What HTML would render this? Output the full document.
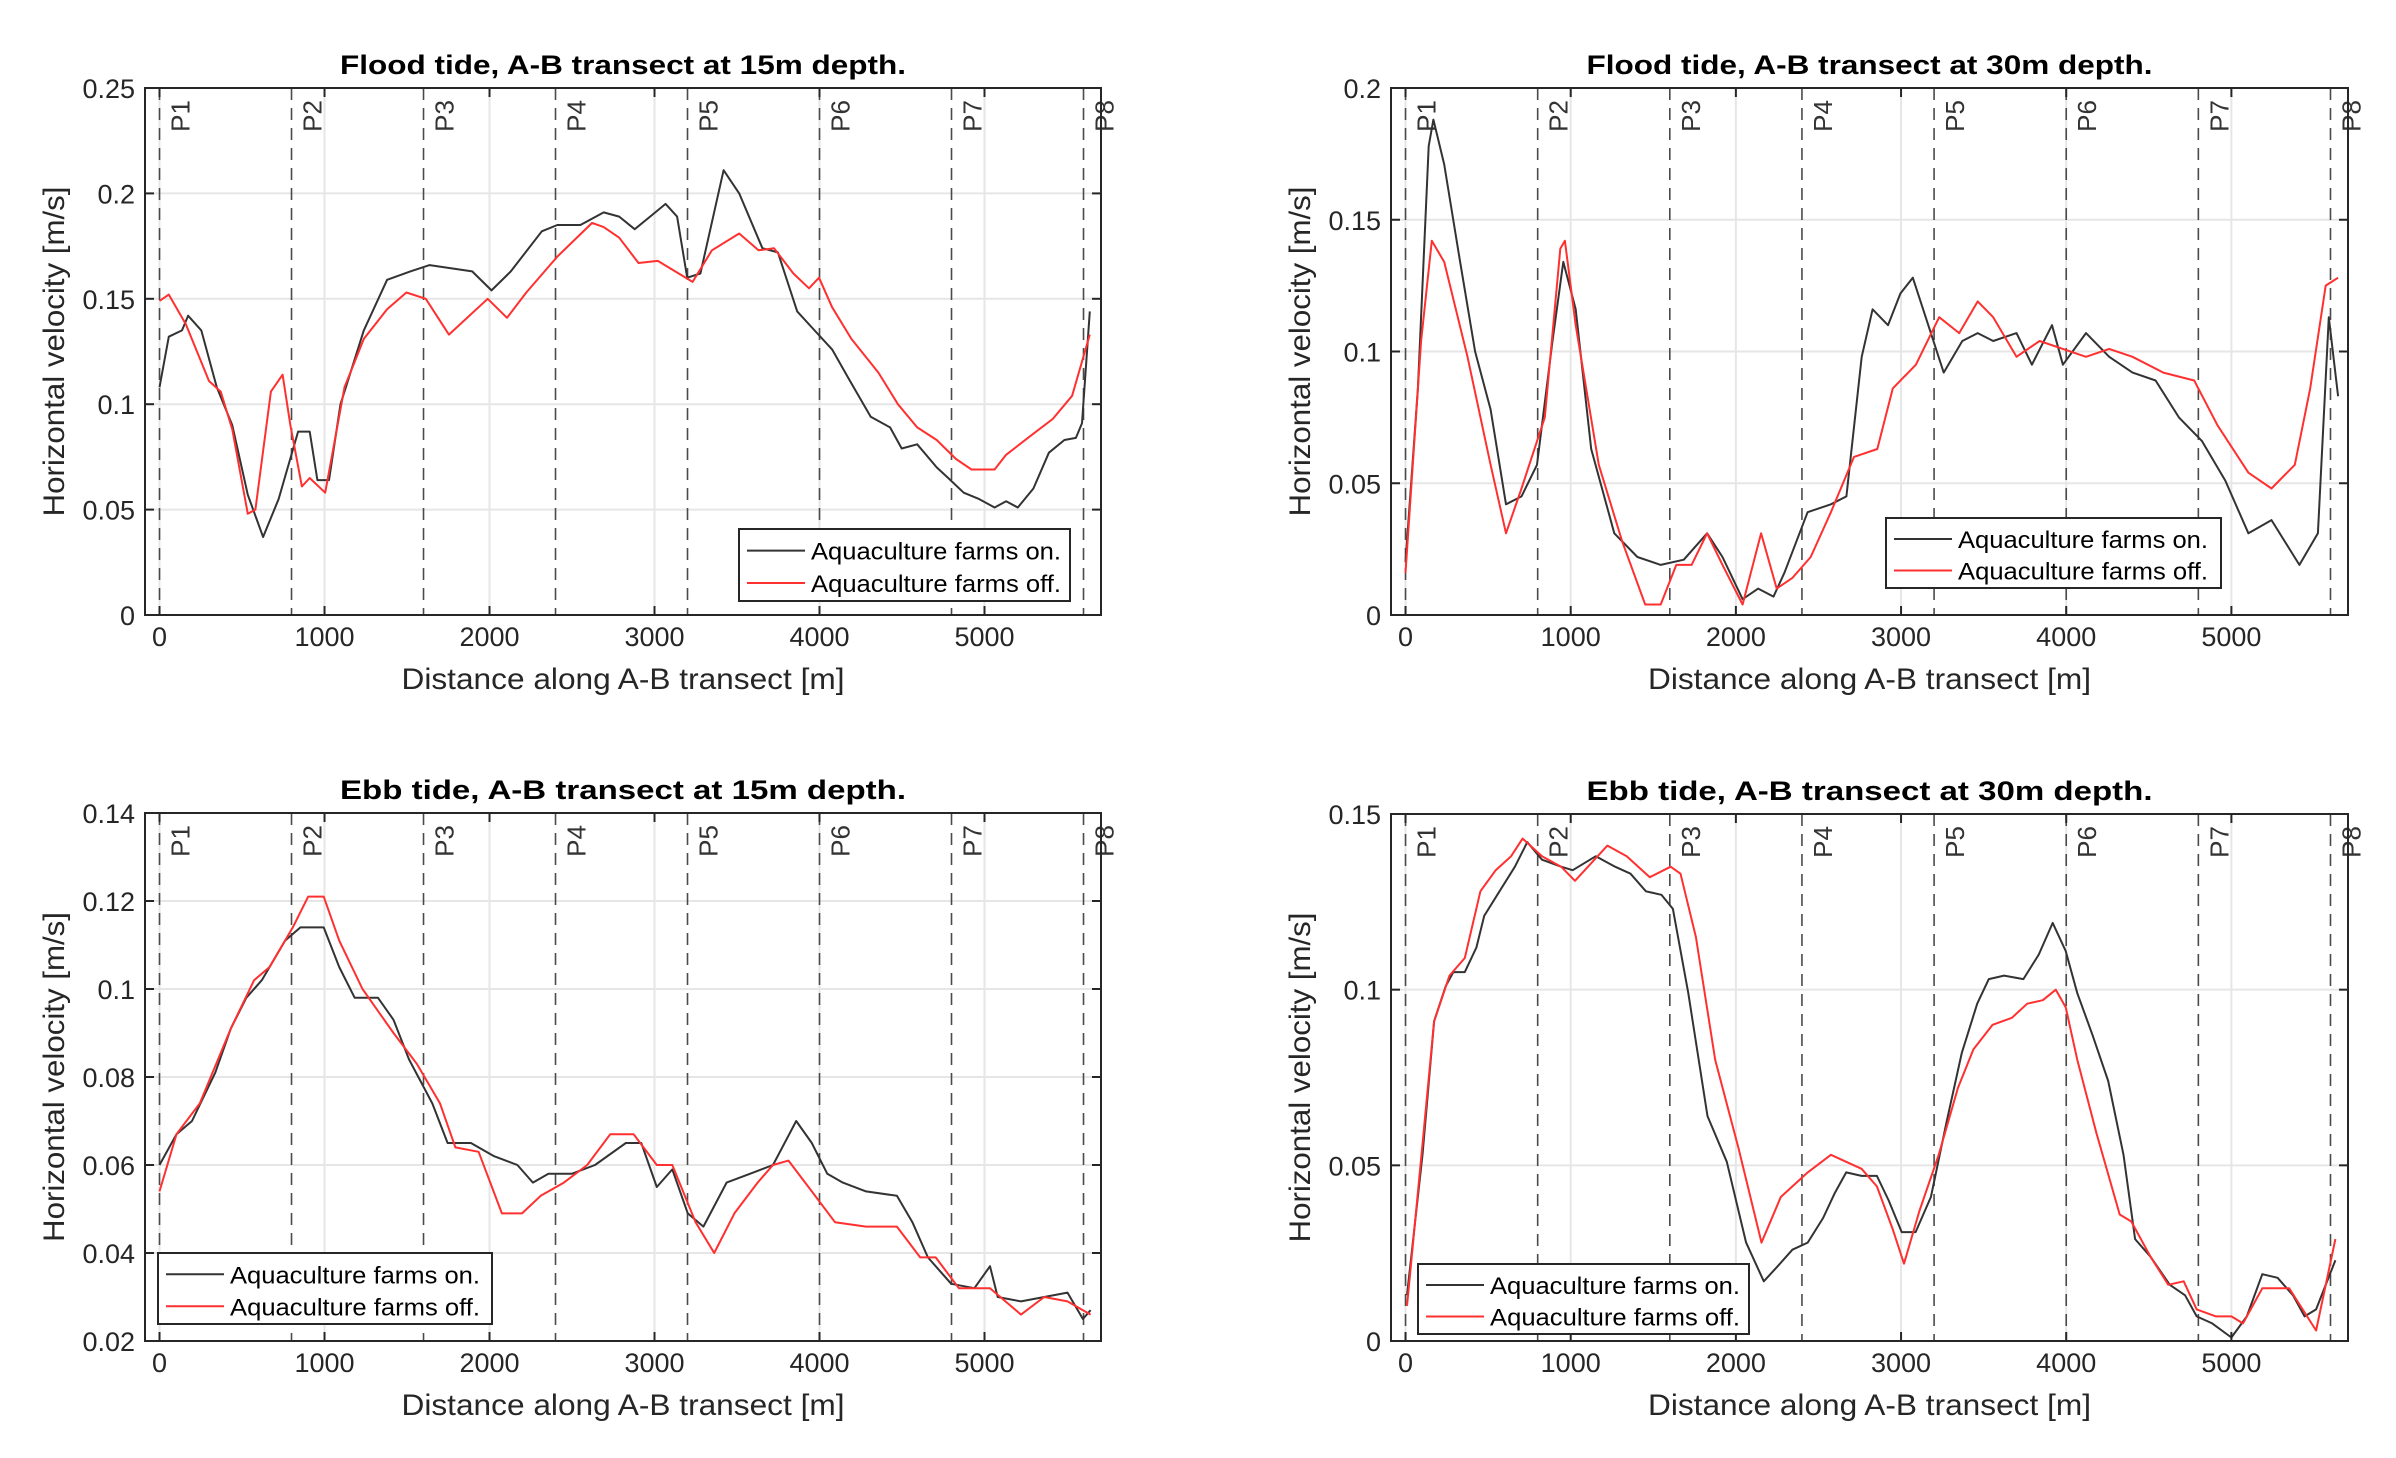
<!DOCTYPE html>
<html><head><meta charset="utf-8"><style>
html,body{margin:0;padding:0;background:#fff;}
svg{display:block;}
text{font-family:"Liberation Sans",Arial,sans-serif;}
</style></head><body>
<svg id="s" width="2396" height="1458" xmlns="http://www.w3.org/2000/svg"></svg>
<script>
const panels=[
{L:145,T:88,W:956,H:527,ymin:0,ymax:0.25,ticks:[0,0.05,0.1,0.15,0.2,0.25],title:"Flood tide, A-B transect at 15m depth.",
 leg:[739,529,331,72],
 k:[[0,.108],[56,.132],[136,.135],[173,.142],[253,.135],[347,.108],[441,.09],[535,.057],[628,.037],[722,.055],[840,.087],[910,.087],[957,.064],[1027,.064],[1097,.1],[1238,.135],[1379,.159],[1520,.163],[1637,.166],[1895,.163],[2012,.154],[2129,.163],[2317,.182],[2411,.185],[2551,.185],[2692,.191],[2786,.189],[2880,.183],[2973,.189],[3067,.195],[3137,.189],[3198,.16],[3278,.162],[3419,.211],[3513,.2],[3654,.174],[3748,.172],[3865,.144],[3982,.134],[4076,.126],[4170,.113],[4310,.094],[4428,.089],[4498,.079],[4592,.081],[4710,.07],[4780,.065],[4874,.058],[4968,.055],[5061,.051],[5131,.054],[5202,.051],[5296,.06],[5390,.077],[5484,.083],[5554,.084],[5591,.091],[5638,.144]],
 r:[[0,.149],[56,.152],[159,.138],[300,.111],[371,.106],[441,.088],[535,.048],[581,.05],[675,.106],[746,.114],[793,.09],[863,.061],[910,.065],[1004,.058],[1121,.108],[1238,.131],[1379,.145],[1496,.153],[1614,.15],[1754,.133],[1989,.15],[2106,.141],[2223,.153],[2411,.17],[2622,.186],[2692,.184],[2786,.179],[2903,.167],[3020,.168],[3231,.158],[3348,.173],[3513,.181],[3630,.173],[3724,.174],[3842,.162],[3936,.155],[3997,.16],[4076,.146],[4193,.131],[4357,.115],[4475,.1],[4592,.089],[4710,.083],[4827,.074],[4921,.069],[5061,.069],[5131,.076],[5296,.086],[5413,.093],[5531,.104],[5638,.133]]},
{L:1391,T:88,W:957,H:527,ymin:0,ymax:0.2,ticks:[0,0.05,0.1,0.15,0.2],title:"Flood tide, A-B transect at 30m depth.",
 leg:[1886,518,335,70],
 k:[[0,.02],[75,.086],[140,.178],[169,.188],[234,.171],[328,.135],[421,.1],[515,.078],[608,.042],[702,.045],[796,.057],[890,.104],[955,.134],[1030,.116],[1124,.063],[1264,.031],[1404,.022],[1545,.019],[1685,.021],[1826,.031],[1919,.022],[2041,.006],[2135,.01],[2228,.007],[2294,.016],[2434,.039],[2575,.042],[2669,.045],[2762,.098],[2828,.116],[2921,.11],[2996,.122],[3071,.128],[3165,.11],[3258,.092],[3371,.104],[3464,.107],[3558,.104],[3699,.107],[3792,.095],[3914,.11],[3980,.095],[4120,.107],[4260,.098],[4401,.092],[4541,.089],[4682,.075],[4822,.066],[4963,.051],[5103,.031],[5243,.036],[5412,.019],[5524,.031],[5590,.113],[5646,.083]],
 r:[[0,.016],[94,.104],[159,.142],[234,.134],[375,.098],[515,.057],[608,.031],[702,.048],[843,.075],[937,.139],[965,.142],[1030,.11],[1170,.057],[1311,.028],[1451,.004],[1545,.004],[1639,.019],[1732,.019],[1826,.031],[1919,.019],[2041,.004],[2153,.031],[2247,.01],[2341,.014],[2453,.022],[2575,.039],[2715,.06],[2856,.063],[2950,.086],[3090,.095],[3231,.113],[3352,.107],[3464,.119],[3558,.113],[3699,.098],[3839,.104],[3980,.101],[4120,.098],[4260,.101],[4401,.098],[4588,.092],[4775,.089],[4916,.072],[5103,.054],[5243,.048],[5384,.057],[5477,.086],[5571,.125],[5646,.128]]},
{L:145,T:813,W:956,H:528,ymin:0.02,ymax:0.14,ticks:[0.02,0.04,0.06,0.08,0.1,0.12,0.14],title:"Ebb tide, A-B transect at 15m depth.",
 leg:[158,1253,334,71],
 k:[[0,.06],[103,.067],[197,.07],[338,.081],[432,.091],[526,.098],[620,.102],[761,.111],[854,.114],[995,.114],[1089,.105],[1183,.098],[1324,.098],[1418,.093],[1512,.084],[1653,.074],[1746,.065],[1887,.065],[2028,.062],[2169,.06],[2263,.056],[2357,.058],[2498,.058],[2639,.06],[2826,.065],[2920,.065],[3014,.055],[3108,.059],[3202,.049],[3296,.046],[3437,.056],[3578,.058],[3718,.06],[3859,.07],[3953,.065],[4047,.058],[4141,.056],[4282,.054],[4469,.053],[4563,.047],[4657,.039],[4798,.033],[4939,.032],[5033,.037],[5080,.03],[5221,.029],[5362,.03],[5503,.031],[5596,.025],[5643,.027]],
 r:[[0,.054],[103,.067],[244,.074],[432,.091],[573,.102],[667,.105],[808,.114],[901,.121],[995,.121],[1089,.111],[1230,.1],[1418,.09],[1559,.083],[1700,.074],[1793,.064],[1934,.063],[2075,.049],[2197,.049],[2310,.053],[2451,.056],[2592,.06],[2732,.067],[2873,.067],[3014,.06],[3108,.06],[3249,.047],[3362,.04],[3484,.049],[3625,.056],[3718,.06],[3812,.061],[3953,.054],[4094,.047],[4282,.046],[4469,.046],[4610,.039],[4704,.039],[4845,.032],[5033,.032],[5221,.026],[5362,.03],[5503,.029],[5643,.026]]},
{L:1391,T:814,W:957,H:527,ymin:0,ymax:0.15,ticks:[0,0.05,0.1,0.15],title:"Ebb tide, A-B transect at 30m depth.",
 leg:[1418,1264,331,70],
 k:[[9,.013],[103,.053],[173,.091],[243,.101],[289,.105],[359,.105],[429,.112],[476,.121],[569,.128],[662,.135],[737,.142],[826,.137],[942,.135],[1012,.134],[1152,.138],[1269,.135],[1362,.133],[1455,.128],[1549,.127],[1619,.123],[1712,.099],[1828,.064],[1945,.051],[2062,.028],[2169,.017],[2248,.021],[2342,.026],[2435,.028],[2528,.035],[2598,.042],[2668,.048],[2761,.047],[2854,.047],[2925,.04],[3004,.031],[3088,.031],[3181,.041],[3274,.062],[3368,.082],[3461,.096],[3531,.103],[3624,.104],[3741,.103],[3834,.11],[3918,.119],[3997,.111],[4067,.099],[4160,.087],[4254,.074],[4347,.053],[4417,.029],[4510,.024],[4627,.016],[4720,.013],[4790,.007],[4884,.005],[5000,.001],[5093,.007],[5187,.019],[5280,.018],[5373,.013],[5443,.007],[5513,.009],[5630,.023]],
 r:[[9,.01],[103,.056],[173,.091],[266,.104],[359,.109],[453,.128],[546,.134],[639,.138],[709,.143],[826,.138],[942,.135],[1026,.131],[1105,.135],[1222,.141],[1339,.138],[1479,.132],[1605,.135],[1665,.133],[1758,.115],[1875,.08],[2015,.055],[2155,.028],[2272,.041],[2435,.048],[2575,.053],[2668,.051],[2761,.049],[2854,.044],[2948,.032],[3018,.022],[3111,.037],[3228,.053],[3344,.072],[3438,.083],[3554,.09],[3671,.092],[3764,.096],[3858,.097],[3937,.1],[3997,.095],[4067,.08],[4184,.059],[4324,.036],[4394,.034],[4510,.024],[4618,.016],[4711,.017],[4790,.009],[4907,.007],[5000,.007],[5070,.005],[5187,.015],[5350,.015],[5513,.003],[5630,.029]]}
];
let o="";
const XMIN=-88,XMAX=5706;
for(const p of panels){
 const X=m=>p.L+(m-XMIN)/(XMAX-XMIN)*p.W;
 const Y=v=>p.T+p.H-(v-p.ymin)/(p.ymax-p.ymin)*p.H;
 for(let m=0;m<=5000;m+=1000) o+=`<line x1="${X(m)}" y1="${p.T}" x2="${X(m)}" y2="${p.T+p.H}" stroke="#e6e6e6" stroke-width="2"/>`;
 for(const t of p.ticks) o+=`<line x1="${p.L}" y1="${Y(t)}" x2="${p.L+p.W}" y2="${Y(t)}" stroke="#e6e6e6" stroke-width="2"/>`;
 for(let i=0;i<8;i++){const m=i*800,x=X(m);
  o+=`<line x1="${x}" y1="${p.T}" x2="${x}" y2="${p.T+p.H}" stroke="#4a4a4a" stroke-width="1.6" stroke-dasharray="12,8"/>`;
  o+=`<text transform="translate(${x+30},${p.T+12}) rotate(-90)" text-anchor="end" font-size="26" fill="#333">P${i+1}</text>`;}
 const pl=(d,c)=>`<polyline fill="none" stroke="${c}" stroke-width="2" stroke-linejoin="round" points="${d.map(q=>X(q[0]).toFixed(1)+","+Y(q[1]).toFixed(1)).join(" ")}"/>`;
 o+=pl(p.k,"#333");o+=pl(p.r,"#ff3030");
 o+=`<rect x="${p.L}" y="${p.T}" width="${p.W}" height="${p.H}" fill="none" stroke="#262626" stroke-width="2"/>`;
 for(let m=0;m<=5000;m+=1000){o+=`<line x1="${X(m)}" y1="${p.T+p.H}" x2="${X(m)}" y2="${p.T+p.H-9}" stroke="#262626" stroke-width="2"/><line x1="${X(m)}" y1="${p.T}" x2="${X(m)}" y2="${p.T+9}" stroke="#262626" stroke-width="2"/>`;
  o+=`<text x="${X(m)}" y="${p.T+p.H+31}" text-anchor="middle" font-size="27" fill="#262626">${m}</text>`;}
 for(const t of p.ticks){o+=`<line x1="${p.L}" y1="${Y(t)}" x2="${p.L+9}" y2="${Y(t)}" stroke="#262626" stroke-width="2"/><line x1="${p.L+p.W}" y1="${Y(t)}" x2="${p.L+p.W-9}" y2="${Y(t)}" stroke="#262626" stroke-width="2"/>`;
  o+=`<text x="${p.L-10}" y="${Y(t)+10}" text-anchor="end" font-size="27" fill="#262626">${t}</text>`;}
 o+=`<text x="${p.L+p.W/2}" y="${p.T-14}" text-anchor="middle" font-size="27" font-weight="bold" fill="#000" textLength="566" lengthAdjust="spacingAndGlyphs">${p.title}</text>`;
 o+=`<text x="${p.L+p.W/2}" y="${p.T+p.H+74}" text-anchor="middle" font-size="30" fill="#262626" textLength="443" lengthAdjust="spacingAndGlyphs">Distance along A-B transect [m]</text>`;
 o+=`<text transform="translate(${p.L-81},${p.T+p.H/2}) rotate(-90)" text-anchor="middle" font-size="30" fill="#262626" textLength="330" lengthAdjust="spacingAndGlyphs">Horizontal velocity [m/s]</text>`;
 const [lx,ly,lw,lh]=p.leg;
 o+=`<rect x="${lx}" y="${ly}" width="${lw}" height="${lh}" fill="#fff" stroke="#262626" stroke-width="2"/>`;
 o+=`<line x1="${lx+8}" y1="${ly+lh*0.3}" x2="${lx+66}" y2="${ly+lh*0.3}" stroke="#333" stroke-width="2"/>`;
 o+=`<line x1="${lx+8}" y1="${ly+lh*0.75}" x2="${lx+66}" y2="${ly+lh*0.75}" stroke="#ff3030" stroke-width="2"/>`;
 o+=`<text x="${lx+72}" y="${ly+lh*0.3+9}" font-size="24" fill="#000" textLength="250" lengthAdjust="spacingAndGlyphs">Aquaculture farms on.</text>`;
 o+=`<text x="${lx+72}" y="${ly+lh*0.75+9}" font-size="24" fill="#000" textLength="250" lengthAdjust="spacingAndGlyphs">Aquaculture farms off.</text>`;
}
document.getElementById("s").innerHTML=o;
</script>
</body></html>
